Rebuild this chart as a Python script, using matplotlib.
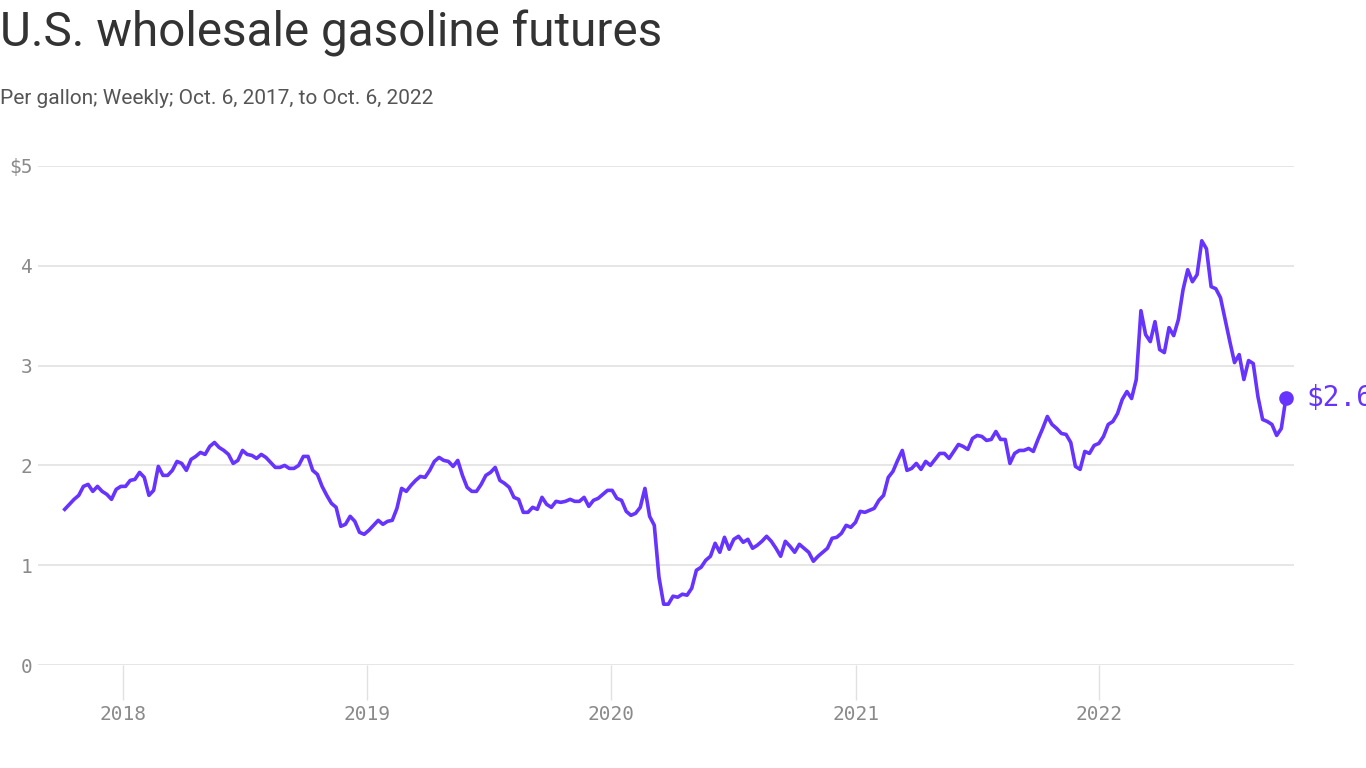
import matplotlib
matplotlib.use('Agg')
import matplotlib.pyplot as plt
import matplotlib.dates as mdates
import pandas as pd

# Weekly RBOB gasoline futures, $ per gallon
start_date = '2017-10-06'
prices = [
    1.56, 1.61, 1.66, 1.70, 1.79, 1.81, 1.74, 1.79, 1.74, 1.71,
    1.66, 1.76, 1.79, 1.79, 1.85, 1.86, 1.93, 1.88, 1.70, 1.75,
    1.99, 1.90, 1.90, 1.95, 2.04, 2.02, 1.95, 2.06, 2.09, 2.13,
    2.11, 2.19, 2.23, 2.18, 2.15, 2.11, 2.02, 2.05, 2.15, 2.11,
    2.10, 2.07, 2.11, 2.08, 2.03, 1.98, 1.98, 2.00, 1.97, 1.97,
    2.00, 2.09, 2.09, 1.95, 1.91, 1.79, 1.70, 1.62, 1.58, 1.39,
    1.41, 1.49, 1.44, 1.33, 1.31, 1.35, 1.40, 1.45, 1.41, 1.44,
    1.45, 1.57, 1.77, 1.74, 1.80, 1.85, 1.89, 1.88, 1.95, 2.04,
    2.08, 2.05, 2.04, 1.99, 2.05, 1.90, 1.78, 1.74, 1.74, 1.81,
    1.90, 1.93, 1.98, 1.85, 1.82, 1.78, 1.68, 1.66, 1.53, 1.53,
    1.58, 1.56, 1.68, 1.61, 1.58, 1.64, 1.63, 1.64, 1.66, 1.64,
    1.64, 1.68, 1.59, 1.65, 1.67, 1.71, 1.75, 1.75, 1.67, 1.65,
    1.54, 1.50, 1.52, 1.58, 1.77, 1.49, 1.40, 0.88, 0.61, 0.61,
    0.69, 0.68, 0.71, 0.70, 0.77, 0.95, 0.98, 1.05, 1.09, 1.22,
    1.13, 1.28, 1.16, 1.26, 1.29, 1.23, 1.26, 1.17, 1.20, 1.24,
    1.29, 1.24, 1.17, 1.09, 1.24, 1.19, 1.13, 1.21, 1.17, 1.13,
    1.04, 1.09, 1.13, 1.17, 1.27, 1.28, 1.32, 1.40, 1.38, 1.43,
    1.54, 1.53, 1.55, 1.57, 1.65, 1.70, 1.88, 1.94, 2.05, 2.15,
    1.95, 1.97, 2.02, 1.96, 2.04, 2.00, 2.06, 2.12, 2.12, 2.07,
    2.14, 2.21, 2.19, 2.16, 2.27, 2.30, 2.29, 2.25, 2.26, 2.34,
    2.26, 2.26, 2.02, 2.12, 2.15, 2.15, 2.17, 2.14, 2.26, 2.37,
    2.49, 2.41, 2.37, 2.32, 2.31, 2.23, 1.99, 1.96, 2.14, 2.12,
    2.20, 2.22, 2.29, 2.41, 2.44, 2.52, 2.66, 2.74, 2.67, 2.86,
    3.55, 3.31, 3.24, 3.44, 3.16, 3.13, 3.38, 3.30, 3.46, 3.76,
    3.96, 3.84, 3.91, 4.25, 4.17, 3.79, 3.77, 3.68, 3.46, 3.24,
    3.03, 3.11, 2.86, 3.05, 3.02, 2.69, 2.46, 2.44, 2.41, 2.30,
    2.37, 2.68,
]
y_ticks = [0, 1, 2, 3, 4, 5]
y_labels = ['0', '1', '2', '3', '4', '$5']
years = [2018, 2019, 2020, 2021, 2022]

PURPLE = '#6633ff'
GRID = '#e1e1e1'
MONO = 'DejaVu Sans Mono'

dates = pd.date_range(start=start_date, periods=len(prices), freq='7D')

fig = plt.figure(figsize=(13.66, 7.68), dpi=100)
ax = fig.add_axes([0.0278, 0.134, 0.9195, 0.650])

ax.plot(dates, prices, color=PURPLE, lw=2.6, solid_joinstyle='round', zorder=3)
ax.plot(dates[-1], prices[-1], 'o', color=PURPLE, ms=9.5, zorder=4, clip_on=False)
# end label runs off the right edge, as in the original
ax.annotate(f'${prices[-1]:.2f}', xy=(dates[-1], prices[-1]), xytext=(15, 0),
            textcoords='offset points', va='center', ha='left',
            fontsize=20, family=MONO, color=PURPLE, annotation_clip=False)

ax.set_ylim(0, 5)
ax.set_yticks(y_ticks)
ax.set_yticklabels(y_labels)
ax.set_xlim(pd.Timestamp('2017-08-27'), pd.Timestamp('2022-10-19'))
ax.set_xticks([pd.Timestamp(f'{y}-01-01') for y in years])
ax.xaxis.set_major_formatter(mdates.DateFormatter('%Y'))

ax.grid(axis='y', color=GRID, lw=1.2, zorder=0)
for s in ax.spines.values():
    s.set_visible(False)
ax.tick_params(axis='y', length=0, pad=4, labelsize=14, labelcolor='#8a8a8a')
ax.tick_params(axis='x', length=25, width=1, color=GRID, pad=4,
               labelsize=14, labelcolor='#8a8a8a')
for lab in ax.get_xticklabels() + ax.get_yticklabels():
    lab.set_family(MONO)

fig.text(0.0, 0.939, 'U.S. wholesale gasoline futures', fontsize=34.3,
         family='Roboto', color='#333333', va='baseline', ha='left')
fig.text(0.0, 0.865, 'Per gallon; Weekly; Oct. 6, 2017, to Oct. 6, 2022',
         fontsize=15, family='Roboto', color='#555555', va='baseline', ha='left')

fig.savefig('out.png', dpi=100)
